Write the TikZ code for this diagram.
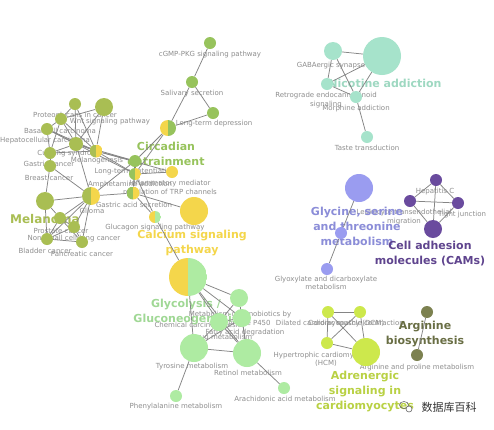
\documentclass[tikz,border=0pt]{standalone}
\usepackage{fontspec}
\setmainfont{DejaVu Sans}
\newfontfamily\cjkfont{Noto Sans CJK SC}
\usetikzlibrary{shapes.geometric}
\definecolor{olv}{HTML}{A9BE53}
\definecolor{cgr}{HTML}{97C35C}
\definecolor{yel}{HTML}{F4D64B}
\definecolor{lgr}{HTML}{AEEBA2}
\definecolor{aqa}{HTML}{A6E3CB}
\definecolor{per}{HTML}{9A9CF0}
\definecolor{dpu}{HTML}{6A4B9E}
\definecolor{lim}{HTML}{CDE84C}
\definecolor{dol}{HTML}{7C8150}
\definecolor{labgray}{HTML}{8E8E8E}
\definecolor{edgegray}{HTML}{858585}
\pgfdeclarelayer{bgw}
\pgfdeclarelayer{lab}
\pgfdeclarelayer{edg}
\pgfsetlayers{bgw,lab,edg,main}
\tikzset{
  nd/.style={circle, inner sep=0pt, draw=none, minimum size=#1pt},
  half/.style 2 args={path picture={
    \fill[#1] (path picture bounding box.south west) rectangle (path picture bounding box.north);
    \fill[#2] (path picture bounding box.north) rectangle (path picture bounding box.south east);}},
  gl/.style={text=labgray, font=\fontsize{7}{8.4}\selectfont, inner sep=0pt, align=center},
  bl/.style={font=\bfseries\fontsize{11}{15}\selectfont, inner sep=0pt, align=center},
  ed/.style={draw=edgegray, line width=0.75pt},
}
\begin{document}
\begin{tikzpicture}[x=1pt,y=-1pt]
\begin{pgfonlayer}{bgw}
\fill[white] (0,0) rectangle (494,429);
\end{pgfonlayer}
\useasboundingbox (0,0) rectangle (494,429);

% ---------------- nodes ----------------
% left (olive) cluster
\node[nd=12, fill=olv] (L1) at (75,104) {};
\node[nd=18, fill=olv] (L2) at (104,107) {};
\node[nd=12, fill=olv] (L3) at (61,119) {};
\node[nd=12, fill=olv] (L4) at (47,129) {};
\node[nd=14, fill=olv] (L5) at (76,144) {};
\node[nd=13, half={olv}{yel}] (L6) at (96,151) {};
\node[nd=12, fill=olv] (L7) at (50,153) {};
\node[nd=12, fill=olv] (L8) at (50,166) {};
\node[nd=18, fill=olv] (L9) at (45,201) {};
\node[nd=18, half={olv}{yel}] (L10) at (91,196) {};
\node[nd=12, fill=olv] (L11) at (60,218) {};
\node[nd=12, fill=olv] (L12) at (74,227) {};
\node[nd=12, fill=olv] (L13) at (47,239) {};
\node[nd=12, fill=olv] (L14) at (82,242) {};
% circadian / calcium
\node[nd=12, fill=cgr] (C1) at (135,161) {};
\node[nd=12, half={cgr}{yel}] (C2) at (135,174) {};
\node[nd=12, fill=yel] (C3) at (172,172) {};
\node[nd=13, half={cgr}{yel}] (C4) at (133,193) {};
\node[nd=16, half={yel}{cgr}] (C5) at (168,128) {};
\node[nd=12, half={yel}{lgr}] (C6) at (155,217) {};
\node[nd=28, fill=yel] (Ca) at (194,211) {};
\node[nd=12, fill=cgr] (T1) at (210,43) {};
\node[nd=12, fill=cgr] (T2) at (192,82) {};
\node[nd=12, fill=cgr] (T3) at (213,113) {};
% glycolysis
\node[nd=38, half={yel}{lgr}] (G0) at (188,277) {};
\node[nd=18, fill=lgr] (G1) at (239,298) {};
\node[nd=18, fill=lgr] (G2) at (219,322) {};
\node[nd=18, fill=lgr] (G3) at (242,318) {};
\node[nd=28, fill=lgr] (G4) at (194,348) {};
\node[nd=28, fill=lgr] (G5) at (247,353) {};
\node[nd=12, fill=lgr] (G6) at (284,388) {};
\node[nd=12, fill=lgr] (G7) at (176,396) {};
% nicotine
\node[nd=18, fill=aqa] (N1) at (333,51) {};
\node[nd=38, fill=aqa] (N2) at (382,56) {};
\node[nd=12, fill=aqa] (N3) at (327,84) {};
\node[nd=12, fill=aqa] (N4) at (356,97) {};
\node[nd=12, fill=aqa] (N5) at (367,137) {};
% glycine
\node[nd=28, fill=per] (P1) at (359,188) {};
\node[nd=12, fill=per] (P2) at (341,233) {};
\node[nd=12, fill=per] (P3) at (327,269) {};
% CAMs
\node[nd=12, fill=dpu] (D1) at (436,180) {};
\node[nd=12, fill=dpu] (D2) at (410,201) {};
\node[nd=12, fill=dpu] (D3) at (458,203) {};
\node[nd=18, fill=dpu] (D4) at (433,229) {};
% adrenergic
\node[nd=12, fill=lim] (A1) at (328,312) {};
\node[nd=12, fill=lim] (A2) at (360,312) {};
\node[nd=12, fill=lim] (A3) at (327,343) {};
\node[nd=28, fill=lim] (A4) at (366,352) {};
% arginine
\node[nd=12, fill=dol] (R1) at (427,312) {};
\node[nd=12, fill=dol] (R2) at (417,355) {};

% ---------------- edges ----------------
\begin{pgfonlayer}{edg}
\foreach \a/\b in {L1/L3,L1/L5,L1/L6,L2/L3,L2/L5,L2/L6,L3/L4,L3/L5,L3/L6,L3/L7,
  L4/L5,L4/L6,L4/L7,L5/L6,L5/L7,L5/C1,L6/C1,L6/C2,L6/C3,L4/C2,L7/L8,L7/L6,
  L8/L9,L8/L10,L9/L10,L9/L11,L9/L13,L10/L11,L10/L12,L10/L13,L10/L14,
  L11/L12,L11/L13,L11/L14,L12/L13,L12/L14,L13/L14,L10/C1,L10/C4,L10/L5,
  C1/C2,C1/C4,C2/C3,C2/C4,C5/C1,C5/C2,C4/C6,C4/Ca,C2/C6,C6/G0,
  T1/T2,T2/T3,T2/C5,T3/C5,
  G0/G1,G0/G2,G0/G3,G0/G4,G0/G5,G1/G2,G1/G3,G1/G5,G2/G3,G2/G4,G2/G5,
  G3/G4,G3/G5,G4/G5,G5/G6,G4/G7,
  N1/N2,N1/N3,N1/N4,N2/N3,N2/N4,N3/N4,N4/N5,
  P1/P2,P2/P3,
  D1/D2,D1/D3,D1/D4,D2/D3,D2/D4,D3/D4,
  A1/A2,A1/A3,A1/A4,A2/A3,A2/A4,A3/A4,
  R1/R2}
  \draw[ed] (\a) -- (\b);
\end{pgfonlayer}

% ---------------- labels ----------------
\begin{pgfonlayer}{lab}
\node[gl] (t1) at (210,55) {cGMP-PKG signaling pathway};
\node[gl] (t2) at (192,94) {Salivary secretion};
\node[gl] (t3) at (214,124) {Long-term depression};
\node[gl] (t4) at (75,116) {Proteoglycans in cancer};
\node[gl] (t5) at (110,122) {Wnt signaling pathway};
\node[gl] (t6) at (60,131) {Basal cell carcinoma};
\node[gl] (t7) at (45,141) {Hepatocellular carcinoma};
\node[gl] (t8) at (70,154) {Cushing syndrome};
\node[gl] (t9) at (49,164) {Gastric cancer};
\node[gl] (t10) at (97,161) {Melanogenesis};
\node[gl] (t11) at (49,178) {Breast cancer};
\node[gl] (t12) at (135,172) {Long-term potentiation};
\node[gl] (t13) at (130,185) {Amphetamine addiction};
\node[gl] (t14) at (170,188) {Inflammatory mediator\\regulation of TRP channels};
\node[gl] (t15) at (134,205) {Gastric acid secretion};
\node[gl] (t16) at (92,211) {Glioma};
\node[gl] (t17) at (61,231) {Prostate cancer};
\node[gl] (t18) at (74,239) {Non-small cell lung cancer};
\node[gl] (t19) at (45,251) {Bladder cancer};
\node[gl] (t20) at (82,254) {Pancreatic cancer};
\node[gl] (t21) at (155,228) {Glucagon signaling pathway};
\node[gl] (t22) at (331,66) {GABAergic synapse};
\node[gl] (t23) at (326,100) {Retrograde endocannabinoid\\signaling};
\node[gl] (t24) at (356,109) {Morphine addiction};
\node[gl] (t25) at (367,148) {Taste transduction};
\node[gl] (t26) at (435,192) {Hepatitis C};
\node[gl] (t27) at (404,217) {Leukocyte transendothelial\\migration};
\node[gl] (t28) at (462,215) {Tight junction};
\node[gl] (t29) at (326,283) {Glyoxylate and dicarboxylate\\metabolism};
\node[gl] (t30) at (240,319) {Metabolism of xenobiotics by\\cytochrome P450};
\node[gl] (t31) at (198,326) {Chemical carcinogenesis};
\node[gl] (t32) at (330,324) {Dilated cardiomyopathy (DCM)};
\node[gl] (t33) at (356,323) {Cardiac muscle contraction};
\node[gl] (t34) at (245,333) {Fatty acid degradation};
\node[gl] (t35) at (222,338) {Drug metabolism};
\node[gl] (t36) at (326,359) {Hypertrophic cardiomyopathy\\(HCM)};
\node[gl] (t37) at (417,368) {Arginine and proline metabolism};
\node[gl] (t38) at (192,367) {Tyrosine metabolism};
\node[gl] (t39) at (248,373) {Retinol metabolism};
\node[gl] (t40) at (285,399) {Arachidonic acid metabolism};
\node[gl] (t41) at (176,407) {Phenylalanine metabolism};
% cluster titles
\node[bl, text=olv, font=\bfseries\fontsize{12}{15}\selectfont] (b1) at (45,219) {Melanoma};
\node[bl, text=cgr] (b2) at (166,154) {Circadian\\entrainment};
\node[bl, text=yel] (b3) at (192,243) {Calcium signaling\\pathway};
\node[bl, text=lgr!92!black] (b4) at (186,312) {Glycolysis /\\Gluconeogenesis};
\node[bl, text=aqa!95!black] (b5) at (385,83) {Nicotine addiction};
\node[bl, text=per!90!black] (b6) at (357,226) {Glycine, serine\\and threonine\\metabolism};
\node[bl, text=dpu!90!black] (b7) at (430,254) {Cell adhesion\\molecules (CAMs)};
\node[bl, text=dol!85!black] (b8) at (425,334) {Arginine\\biosynthesis};
\node[bl, text=lim!90!black] (b9) at (365,391) {Adrenergic\\signaling in\\cardiomyocytes};
\end{pgfonlayer}

% watermark
\node[inner sep=0pt, font=\cjkfont\fontsize{11}{12}\selectfont, text=black!80] (wm) at (449,407) {数据库百科};
\node[draw=black!60, line width=0.6pt, ellipse, minimum width=9pt, minimum height=7pt, inner sep=0pt] (ic1) at (404,405) {};
\node[draw=black!60, line width=0.6pt, fill=white, circle, minimum size=6pt, inner sep=0pt] (ic2) at (409,409) {};
\end{tikzpicture}
\end{document}
